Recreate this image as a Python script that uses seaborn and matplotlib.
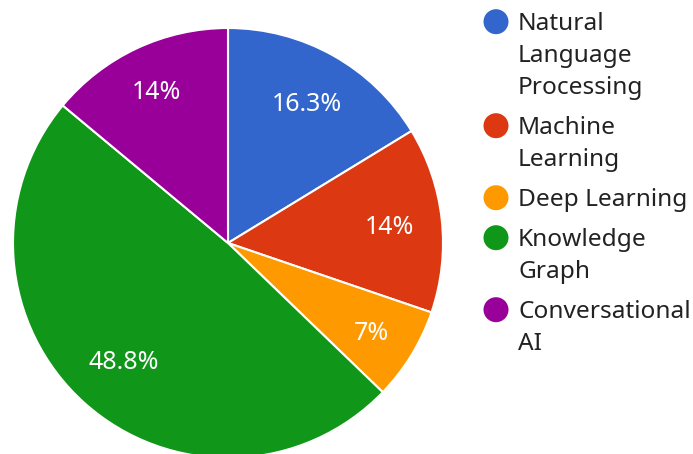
import matplotlib
matplotlib.use("Agg")
import matplotlib.pyplot as plt
import numpy as np
import seaborn as sns

# data
categories = ["Natural Language Processing", "Machine Learning", "Deep Learning",
              "Knowledge Graph", "Conversational AI"]
legend_labels = ["Natural\nLanguage\nProcessing", "Machine\nLearning", "Deep Learning",
                 "Knowledge\nGraph", "Conversational\nAI"]
counts = [7, 6, 3, 21, 6]
colors = sns.color_palette(["#3366cc", "#dc3912", "#ff9900", "#109618", "#990099"])

sns.set_style("white")
plt.rcParams['font.family'] = ['Noto Sans', 'DejaVu Sans']

W, H = 693, 454
fig = plt.figure(figsize=(W / 100, H / 100), dpi=100)

# pie area in pixels: center (228, 243), radius 215
cx, cy, r = 228, 243, 215
ax = fig.add_axes([(cx - r) / W, (H - cy - r) / H, 2 * r / W, 2 * r / H])


def pct_fmt(p):
    s = "{:.1f}".format(p)
    if s.endswith(".0"):
        s = s[:-2]
    return s + "%"


pie_fs = 18
wedges, texts, autotexts = ax.pie(
    counts, colors=colors, startangle=90, counterclock=False,
    autopct=pct_fmt, pctdistance=0.74,
    wedgeprops=dict(edgecolor="white", linewidth=1.5),
    textprops=dict(color="white", fontsize=pie_fs),
)
ax.set_xlim(-1, 1)
ax.set_ylim(-1, 1)
ax.set_aspect("equal")
ax.axis("off")

# push each label out along its mid-angle so the far corner of the text box
# sits at ~0.875 of the radius (like google charts does)
fig.canvas.draw()
R = 0.875
hh = 0.714 * pie_fs * 100 / 72 / 2 / r
for w, t in zip(wedges, autotexts):
    ang = np.deg2rad((w.theta1 + w.theta2) / 2)
    c, s = np.cos(ang), np.sin(ang)
    hw = t.get_window_extent().width / 2 / r
    a, b = np.sign(c) * hw, np.sign(s) * hh
    k = a * c + b * s
    d = -k + np.sqrt(k * k - (a * a + b * b - R * R))
    t.set_position((d * c, d * s - hh))
    t.set_verticalalignment("baseline")

# legend drawn on an overlay axes in pixel units
lax = fig.add_axes([0, 0, 1, 1])
lax.set_xlim(0, W)
lax.set_ylim(H, 0)
lax.axis("off")

leg_fs = 17.6
line_h = 32
gap = 8
y = 21.7
for lab, col in zip(legend_labels, colors):
    lines = lab.split("\n")
    lax.scatter([496], [y], s=324, color=col, edgecolor="none")
    for i, ln in enumerate(lines):
        lax.text(518, y + i * line_h + 8.6, ln, fontsize=leg_fs, color="#222222",
                 va="baseline", ha="left")
    y += len(lines) * line_h + gap

fig.savefig("out.png", dpi=100)
